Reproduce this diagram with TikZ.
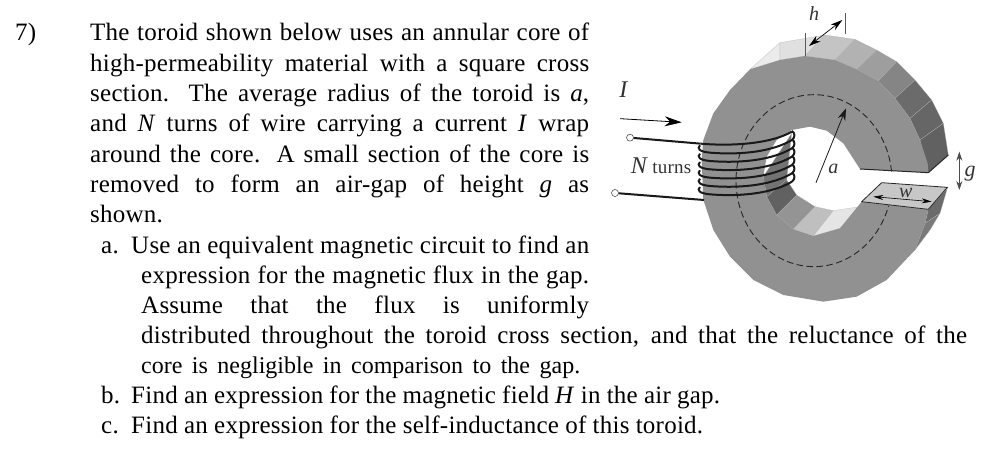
\documentclass[tikz,border=0pt]{standalone}
\usepackage{fontspec}
\usetikzlibrary{arrows.meta}
\setmainfont[LetterSpace=1]{Liberation Serif}
\hbadness=10000
\hfuzz=20pt
\newcommand{\fitline}[2]{\hbox to #1pt{#2}}
\tikzset{
  textline/.style={anchor=base west, inner sep=0pt, font=\fontsize{25}{28}\selectfont},
  figlabel/.style={inner sep=0pt, text=black!80},
  wirepath/.style={line width=2pt, black!90},
  facet/.style={draw=black!30, line width=0.2pt}
}
\begin{document}
\begin{tikzpicture}[x=1pt, y=-1pt]
\useasboundingbox (0,0) rectangle (1002,455);

\node[textline] (num) at (15,40) {7)};
\node[textline] (p1) at (90,40) {\fitline{499}{The toroid shown below uses an annular core of}};
\node[textline] (p2) at (90,71) {\fitline{499}{high-permeability material with a square cross}};
\node[textline] (p3) at (90,101) {\fitline{499}{section.  The average radius of the toroid is \textit{a},}};
\node[textline] (p4) at (90,131) {\fitline{499}{and \textit{N} turns of wire carrying a current \textit{I} wrap}};
\node[textline] (p5) at (90,162) {\fitline{499}{around the core.  A small section of the core is}};
\node[textline] (p6) at (90,192) {\fitline{499}{removed to form an air-gap of height \textit{g} as}};
\node[textline] (p7) at (90,222) {shown.};
\node[textline] (la) at (101,253) {a.};
\node[textline] (a1) at (131,253) {\fitline{458}{Use an equivalent magnetic circuit to find an}};
\node[textline] (a2) at (141,283) {\fitline{448}{expression for the magnetic flux in the gap.}};
\node[textline] (a3) at (141,313) {\fitline{448}{Assume that the flux is uniformly}};
\node[textline] (a4) at (141,343) {\fitline{826}{distributed throughout the toroid cross section, and that the reluctance of the}};
\node[textline, font=\fontsize{24}{28}\selectfont\addfontfeature{LetterSpace=0}] (a5) at (141,373) {\fitline{439}{core is negligible in comparison to the gap.}};
\node[textline] (lb) at (101,403) {b.};
\node[textline] (b1) at (131,403) {\fitline{589}{Find an expression for the magnetic field \textit{H} in the air gap.}};
\node[textline] (lc) at (101,433) {c.};
\node[textline] (c1) at (131,433) {\fitline{572}{Find an expression for the self-inductance of this toroid.}};

\begin{scope}[xshift=610pt, scale=1/3]
\foreach \ax/\ay/\bx/\by/\cx/\cy/\dx/\dy/\tone in {
  420/208/510/180/510/128/420/208/8,
  510/180/585/168/645/105/510/128/12,
  585/168/675/180/735/118/645/105/23,
  675/180/740/208/800/150/735/118/30,
  740/208/805/243/860/185/800/150/38,
  805/243/855/295/915/240/860/185/48,
  855/295/900/355/965/300/915/240/58,
  900/355/930/420/1000/370/965/300/60,
  930/420/955/518/1015/465/1000/370/62}
  \filldraw[facet, fill=black!\tone] (\ax,\ay) -- (\bx,\by) -- (\cx,\cy) -- (\dx,\dy) -- cycle;

\foreach \ax/\ay/\bx/\by/\cx/\cy/\dx/\dy/\tone in {
  460/530/470/590/530/540/545/400/55,
  470/590/500/645/560/585/530/540/62,
  500/645/550/688/615/620/560/585/42,
  550/688/610/708/670/632/615/620/25,
  610/708/690/685/750/620/670/632/10,
  955/628/945/670/990/640/1012/565/58,
  945/670/915/750/960/690/990/640/52}
  \filldraw[facet, fill=black!\tone] (\ax,\ay) -- (\bx,\by) -- (\cx,\cy) -- (\dx,\dy) -- cycle;

\fill[black!43] (955,518) -- (953,490) -- (930,420) -- (900,355) -- (855,295) -- (805,243)
  -- (740,208) -- (675,180) -- (585,168) -- (510,180) -- (420,208) -- (360,270) -- (310,340)
  -- (280,420) -- (275,480) -- (280,600) -- (310,690) -- (360,770) -- (430,840) -- (520,885)
  -- (640,905) -- (740,890) -- (830,840) -- (915,750) -- (945,670) -- (955,628) -- (755,605)
  -- (690,685) -- (610,708) -- (550,688) -- (500,645) -- (470,590) -- (460,530) -- (470,470)
  -- (500,420) -- (545,390) -- (600,380) -- (650,392) -- (700,430) -- (750,507) -- cycle;

\draw[black!85, line width=1pt] (750,507) -- (955,518) -- (1015,465);
\draw[fill=black!22, draw=black!85, line width=0.8pt] (755,605) -- (815,548) -- (1012,562) -- (955,628) -- cycle;

\draw[black!85, line width=0.9pt, dash pattern=on 6.5pt off 3.5pt] plot[domain=-6:-343, samples=70, smooth] ({612+234*cos(\x)},{542+258*sin(\x)});

\node[circle, draw=black!80, fill=white, line width=0.5pt, minimum size=7pt, inner sep=0pt] (termtop) at (60,413) {};
\node[circle, draw=black!80, fill=white, line width=0.5pt, minimum size=7pt, inner sep=0pt] (termbot) at (15,579) {};
\coordinate (coiltop) at (272,431);
\coordinate (coilbot) at (282,600);
\draw[wirepath] (termtop) -- (coiltop);
\draw[wirepath] (termbot) -- (coilbot);

\draw[wirepath] (272,431) .. controls (380,440) and (490,428) .. (545,395);
\foreach \i in {0,...,5} {
  \pgfmathsetmacro{\turnshift}{25*\i}
  \draw[wirepath] (545,{393+\turnshift}) .. controls (556,{398+\turnshift}) and (556,{412+\turnshift}) .. (546,{420+\turnshift});
  \draw[wirepath] (270,{436+\turnshift}) .. controls (260,{446+\turnshift}) and (268,{455+\turnshift}) .. (300,{458+\turnshift})
    .. controls (400,{466+\turnshift}) and (490,{453+\turnshift}) .. (546,{420+\turnshift});
}

\coordinate (atail) at (618,548);
\coordinate (ahead) at (708,325);
\draw[line width=0.8pt, -{Stealth[length=12pt, width=8pt]}, black!90] (atail) -- (ahead);
\node[figlabel, font=\fontsize{20}{24}\itshape] (alabel) at (670,507) {a};

\coordinate (htick) at (585,168);
\coordinate (htop) at (585,100);
\coordinate (jtick) at (705,103);
\coordinate (jtop) at (705,38);
\draw[black!65, line width=0.8pt] (htick) -- (htop);
\draw[black!65, line width=0.8pt] (jtick) -- (jtop);
\coordinate (hleft) at (597,138);
\coordinate (hright) at (697,60);
\draw[line width=0.7pt, {Stealth[length=12pt, width=7pt]}-{Stealth[length=12pt, width=7pt]}] (hleft) -- (hright);
\node[figlabel, font=\fontsize{20}{24}\itshape] (hlabel) at (612,42) {h};

\coordinate (ileft) at (30,356);
\coordinate (iright) at (215,367);
\draw[line width=0.8pt, -{Stealth[length=17pt, width=10pt]}] (ileft) -- (iright);
\node[figlabel, font=\fontsize{24}{28}\itshape] (ilabel) at (40,268) {I};

\node[figlabel, font=\fontsize{19}{24}\selectfont] (nlabel) at (153,498) {{\fontsize{24}{28}\itshape N}\hspace{0.3em}turns};

\coordinate (wleft) at (790,590);
\coordinate (wright) at (965,605);
\draw[line width=0.6pt, {Stealth[length=10pt, width=5pt]}-{Stealth[length=10pt, width=5pt]}] (wleft) -- (wright);
\node[figlabel, font=\fontsize{20}{24}\itshape] (wlabel) at (887,578) {w};

\coordinate (gtop) at (1048,455);
\coordinate (gbot) at (1048,570);
\draw[black!70, line width=0.7pt, {Stealth[length=9pt, width=6pt]}-{Stealth[length=9pt, width=6pt]}] (gtop) -- (gbot);
\node[figlabel, font=\fontsize{22}{26}\itshape] (glabel) at (1080,522) {g};
\end{scope}
\end{tikzpicture}
\end{document}
